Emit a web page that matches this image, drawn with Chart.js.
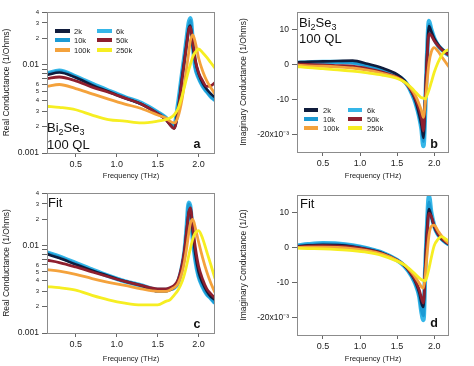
<!DOCTYPE html>
<html>
<head>
<meta charset="utf-8">
<script src="https://cdn.jsdelivr.net/npm/chart.js@4.4.0/dist/chart.umd.min.js"></script>
<style>
  body { margin: 0; background: #fff; width: 474px; height: 366px; position: relative; overflow: hidden; }
  canvas { position: absolute; }
</style>
</head>
<body>
<canvas id="pa" width="237" height="183" style="left:0;top:0"></canvas>
<canvas id="pb" width="237" height="183" style="left:237px;top:0"></canvas>
<canvas id="pc" width="237" height="183" style="left:0;top:183px"></canvas>
<canvas id="pd" width="237" height="183" style="left:237px;top:183px"></canvas>
<script>
/************************* data *************************/
const freq = [0.15,0.3,0.5,0.7,0.9,1.1,1.3,1.5,1.6,1.65,1.7,1.75,1.8,1.83,1.855,1.88,1.9,1.93,1.96,2.0,2.05,2.1,2.15,2.2];
const seriesNames = ['2k','6k','10k','50k','100k','250k'];

// a : real conductance, data
const reA_2k   = [0.0077,0.0082,0.0072,0.0059,0.0050,0.0042,0.0036,0.0028,0.0024,0.0021,0.0019,0.0032,0.0075,0.012,0.018,0.026,0.028,0.016,0.011,0.0080,0.0062,0.0053,0.0047,0.0043];
const reA_6k   = [0.0080,0.0086,0.0074,0.0061,0.0051,0.0043,0.0037,0.0029,0.0025,0.0022,0.0020,0.0036,0.0081,0.013,0.020,0.030,0.034,0.017,0.0095,0.0072,0.0058,0.0050,0.0044,0.0040];
const reA_10k  = [0.0079,0.0085,0.0073,0.0060,0.0050,0.0043,0.0036,0.0029,0.0025,0.0022,0.0020,0.0034,0.0078,0.0125,0.019,0.028,0.032,0.017,0.0095,0.0072,0.0058,0.0050,0.0044,0.0040];
const reA_50k  = [0.0070,0.0073,0.0066,0.0056,0.0049,0.0042,0.0036,0.0028,0.0024,0.0021,0.0019,0.0030,0.0070,0.0115,0.017,0.025,0.027,0.018,0.0115,0.0082,0.0066,0.0057,0.0058,0.0063];
const reA_100k = [0.0057,0.0060,0.0054,0.0047,0.0041,0.0036,0.0032,0.0027,0.0025,0.0023,0.0022,0.0026,0.0042,0.0065,0.0095,0.014,0.019,0.022,0.018,0.012,0.0085,0.0066,0.0055,0.0047];
const reA_250k = [0.0034,0.0033,0.0031,0.0027,0.0024,0.0023,0.0022,0.0023,0.0024,0.0025,0.0027,0.0032,0.0045,0.0058,0.0072,0.0088,0.0102,0.0125,0.0140,0.0152,0.0138,0.0122,0.0106,0.0092];

// b : imaginary conductance, data (x10^-3)
const imB_2k   = [0.6,0.8,0.9,1.0,1.1,0.2,-1.0,-2.8,-4.5,-6.0,-8.0,-10.5,-14.5,-17.5,-21,-10,1,11,9.5,7.5,5.8,4.5,3.6,2.9];
const imB_6k   = [0.5,0.6,0.7,0.7,0.6,-0.3,-1.5,-3.2,-4.8,-6.2,-8.3,-11,-15,-18.5,-23.3,-12,0,12.4,10,7.5,5.5,4.3,3.4,2.7];
const imB_10k  = [0.5,0.6,0.7,0.7,0.6,-0.3,-1.5,-3.2,-4.8,-6.2,-8.3,-11,-15,-18,-22,-11,0,11.5,9.8,7.3,5.4,4.2,3.3,2.6];
const imB_50k  = [0.1,0.0,-0.1,-0.3,-0.5,-1.2,-2.2,-3.6,-5.0,-6.2,-7.8,-10,-13,-15.5,-19,-9,0,8.8,8.3,6.8,5.4,4.3,3.4,2.7];
const imB_100k = [-0.2,-0.4,-0.5,-0.7,-1.0,-1.6,-2.5,-3.8,-5.0,-6.0,-7.3,-9,-11.5,-13.3,-15.1,-11,-6,0.5,3.5,4.8,3.8,2.3,0.8,-0.7];
const imB_250k = [-0.6,-0.9,-1.2,-1.5,-1.9,-2.4,-3.0,-4.0,-5.0,-5.8,-6.8,-7.9,-9.0,-9.5,-9.6,-9.8,-9.0,-7.3,-5.2,-2.3,0.5,2.6,3.8,4.3];

// c : real conductance, fit
const reC_2k   = [0.0080,0.0072,0.0061,0.0052,0.0045,0.0039,0.0035,0.0030,0.0030,0.0031,0.0033,0.0039,0.0060,0.0090,0.015,0.024,0.026,0.014,0.0080,0.0050,0.0037,0.0030,0.0026,0.0024];
const reC_6k   = [0.0083,0.0075,0.0063,0.0053,0.0045,0.0039,0.0035,0.0031,0.0031,0.0032,0.0033,0.0038,0.0058,0.0088,0.016,0.031,0.027,0.012,0.0070,0.0045,0.0034,0.0028,0.0025,0.0022];
const reC_10k  = [0.0082,0.0074,0.0062,0.0052,0.0045,0.0039,0.0035,0.0031,0.0031,0.0032,0.0033,0.0038,0.0058,0.0087,0.016,0.030,0.026,0.012,0.0070,0.0045,0.0034,0.0028,0.0025,0.0022];
const reC_50k  = [0.0068,0.0064,0.0057,0.0050,0.0044,0.0039,0.0035,0.0032,0.0032,0.0033,0.0035,0.0041,0.0062,0.0092,0.015,0.024,0.027,0.016,0.0095,0.0058,0.0041,0.0032,0.0028,0.0025];
const reC_100k = [0.0053,0.0051,0.0047,0.0042,0.0038,0.0035,0.0032,0.0030,0.0030,0.0031,0.0033,0.0037,0.0050,0.0068,0.0095,0.014,0.018,0.020,0.016,0.011,0.0072,0.0050,0.0037,0.0029];
const reC_250k = [0.0034,0.0033,0.0031,0.0027,0.0024,0.0022,0.0021,0.0021,0.0023,0.0024,0.0027,0.0031,0.0039,0.0048,0.0060,0.0077,0.0093,0.0120,0.0140,0.0148,0.0120,0.0085,0.0060,0.0042];

// d : imaginary conductance, fit (x10^-3)
const imD_2k   = [0.3,0.6,0.8,0.7,0.3,-0.5,-1.6,-3.6,-5.2,-6.4,-8.0,-10,-13,-16,-17,-5,4,11,9,6,3.8,2.5,1.6,0.9];
const imD_6k   = [0.5,0.9,1.2,1.1,0.6,-0.3,-1.5,-3.6,-5.3,-6.6,-8.3,-10.5,-14,-18.5,-20.7,-6,4,14.6,10,6.2,3.8,2.5,1.6,0.9];
const imD_10k  = [0.4,0.8,1.1,1.0,0.5,-0.3,-1.5,-3.6,-5.3,-6.6,-8.3,-10.5,-14,-18,-19.5,-5.5,4,13,9.5,6,3.7,2.4,1.5,0.8];
const imD_50k  = [0.2,0.4,0.5,0.4,0.1,-0.6,-1.7,-3.6,-5.1,-6.3,-7.8,-9.6,-12.2,-14.5,-15.9,-6,2,9.8,9,6.3,4,2.6,1.7,1.0];
const imD_100k = [0.0,0.1,0.1,0.0,-0.3,-0.9,-1.9,-3.7,-5.0,-6.0,-7.2,-8.6,-10.3,-11.3,-11.6,-8,-3,3.5,6,6.4,4.8,3.3,2.1,1.2];
const imD_250k = [-0.2,-0.3,-0.4,-0.6,-0.9,-1.4,-2.3,-3.9,-5.0,-5.8,-6.7,-7.7,-8.7,-9.2,-9.4,-9.5,-8.5,-6,-3,0.5,2.3,3.1,2.5,1.8];

// ticks
const freqTicks = [0.5,1.0,1.5,2.0];
const freqLabels = ['0.5','1.0','1.5','2.0'];
const logTicks = [0.001,0.002,0.003,0.004,0.005,0.006,0.007,0.008,0.009,0.01,0.02,0.03,0.04];
const logLabels = ['0.001','2','3','4','5','6','','','','0.01','2','3','4'];
const imTicks = [-20,-10,0,10];
const imLabels = ['-20x10\u207B\u00B3','-10','0','10'];

/************************* styles *************************/
const FONT = "'Liberation Sans', Arial, sans-serif";
const lineColor = {'2k':'#101c3c','6k':'#35b6e8','10k':'#1c9ad4','50k':'#8e1f2e','100k':'#f4a23c','250k':'#f6ee22'};
const lineWidth = {'2k':2.6,'6k':4.5,'10k':3,'50k':2.8,'100k':2.8,'250k':2.8};
const drawOrder = {'250k':0,'100k':1,'50k':2,'2k':3,'10k':4,'6k':5};

function makeSets(arrays){
  return seriesNames.map((name,i) => ({
    label: name,
    data: freq.map((f,j) => ({x:f, y:arrays[i][j]})),
    borderColor: lineColor[name],
    borderWidth: lineWidth[name],
    order: drawOrder[name],
    pointRadius: 0,
    fill: false,
    cubicInterpolationMode: 'monotone'
  }));
}

/*************** plugin : frame, legend, inset texts ***************/
function decoPlugin(p){
  return {
    id: 'deco',
    afterDraw(chart){
      const ctx = chart.ctx, a = chart.chartArea;
      ctx.save();
      ctx.strokeStyle = '#8c8c8c';
      ctx.lineWidth = 1;
      ctx.strokeRect(Math.round(a.left)+0.5, Math.round(a.top)+0.5, Math.round(a.right-a.left)-1, Math.round(a.bottom-a.top));
      // legend
      if (p.legend){
        const L = p.legend;
        const grid = [['2k','6k'],['10k','50k'],['100k','250k']];
        ctx.font = '7.5px ' + FONT;
        ctx.textBaseline = 'middle';
        grid.forEach((row,r) => row.forEach((name,c) => {
          const y = L.rows[r];
          ctx.strokeStyle = lineColor[name];
          ctx.lineWidth = 4;
          ctx.beginPath();
          ctx.moveTo(L.cols[c][0], y);
          ctx.lineTo(L.cols[c][1], y);
          ctx.stroke();
          ctx.fillStyle = '#222';
          ctx.fillText(name, L.cols[c][2], y + 0.5);
        }));
      }
      // inset texts
      ctx.fillStyle = '#111';
      ctx.textBaseline = 'alphabetic';
      (p.texts || []).forEach(t => {
        let x = t.x;
        t.parts.forEach(part => {
          const sub = part.sub;
          ctx.font = (sub ? '9px ' : '13px ') + FONT;
          ctx.fillText(part.s, x, t.y + (sub ? 3 : 0));
          x += ctx.measureText(part.s).width;
        });
      });
      // panel letter
      ctx.font = 'bold 12.5px ' + FONT;
      ctx.textAlign = 'center';
      ctx.fillText(p.letter, p.letterPos[0], p.letterPos[1]);
      ctx.restore();
    }
  };
}

/************************* panels *************************/
function panel(id, arrays, p){
  const isLog = p.log;
  const yTicks = isLog ? logTicks : imTicks;
  const yLabels = isLog ? logLabels : imLabels;
  return new Chart(document.getElementById(id), {
    type: 'line',
    data: { datasets: makeSets(arrays) },
    plugins: [decoPlugin(p)],
    options: {
      responsive: false,
      animation: false,
      events: [],
      layout: { padding: { top: p.box[1], right: 237 - p.box[2], left: 0, bottom: 0 } },
      plugins: { legend: { display: false }, tooltip: { enabled: false } },
      scales: {
        x: {
          type: 'linear', min: 0.15, max: 2.2,
          afterBuildTicks: s => { s.ticks = freqTicks.map(v => ({value: v})); },
          afterFit: s => { s.height = 183 - p.box[3]; },
          grid: { drawOnChartArea: false, drawTicks: true, tickLength: 4, color: '#666' },
          border: { display: false },
          ticks: { callback: (v, i) => freqLabels[i], font: { family: FONT, size: 9 }, color: '#222', padding: 2, maxRotation: 0, autoSkip: false },
          title: { display: true, text: 'Frequency (THz)', font: { family: FONT, size: 7.5 }, color: '#222', padding: { top: 0, bottom: 3 } }
        },
        y: {
          type: isLog ? 'logarithmic' : 'linear',
          min: isLog ? 0.001 : -25,
          max: isLog ? 0.04 : 15,
          afterBuildTicks: s => { s.ticks = yTicks.map(v => ({value: v})); },
          afterFit: s => { s.width = p.box[0]; },
          grid: { drawOnChartArea: false, drawTicks: true, tickLength: 5, color: '#666' },
          border: { display: false },
          ticks: {
            callback: (v, i) => yLabels[i],
            font: c => ({ family: FONT, size: (isLog && yLabels[c.index] && yLabels[c.index].length < 2) ? 6 : 8.5 }),
            color: '#222', padding: 3, autoSkip: false
          },
          title: { display: true, text: p.yTitle, font: { family: FONT, size: 8.5 }, color: '#222', padding: { top: 2, bottom: 0 } }
        }
      }
    }
  });
}

const bise = [{s:'Bi'},{s:'2',sub:true},{s:'Se'},{s:'3',sub:true}];

panel('pa', [reA_2k,reA_6k,reA_10k,reA_50k,reA_100k,reA_250k], {
  log: true, box: [47,12,215,153], yTitle: 'Real Conductance (1/Ohms)',
  legend: { rows: [31,40,50], cols: [[55,70,74],[97,112,116]] },
  texts: [{x:47, y:132, parts: bise}, {x:47, y:149, parts: [{s:'100 QL'}]}],
  letter: 'a', letterPos: [197,148]
});
panel('pb', [imB_2k,imB_6k,imB_10k,imB_50k,imB_100k,imB_250k], {
  log: false, box: [60,12,212,152], yTitle: 'Imaginary Conductance (1/Ohms)',
  legend: { rows: [110,119,128], cols: [[67,81,86],[111,125,130]] },
  texts: [{x:62, y:27, parts: bise}, {x:62, y:43, parts: [{s:'100 QL'}]}],
  letter: 'b', letterPos: [197,148]
});
panel('pc', [reC_2k,reC_6k,reC_10k,reC_50k,reC_100k,reC_250k], {
  log: true, box: [47,10,215,150], yTitle: 'Real Conductance (1/Ohms)',
  texts: [{x:48, y:24, parts: [{s:'Fit'}]}],
  letter: 'c', letterPos: [197,145]
});
panel('pd', [imD_2k,imD_6k,imD_10k,imD_50k,imD_100k,imD_250k], {
  log: false, box: [60,12,212,152], yTitle: 'Imaginary Conductance (1/\u03A9)',
  texts: [{x:63, y:25, parts: [{s:'Fit'}]}],
  letter: 'd', letterPos: [197,144]
});
</script>
</body>
</html>
